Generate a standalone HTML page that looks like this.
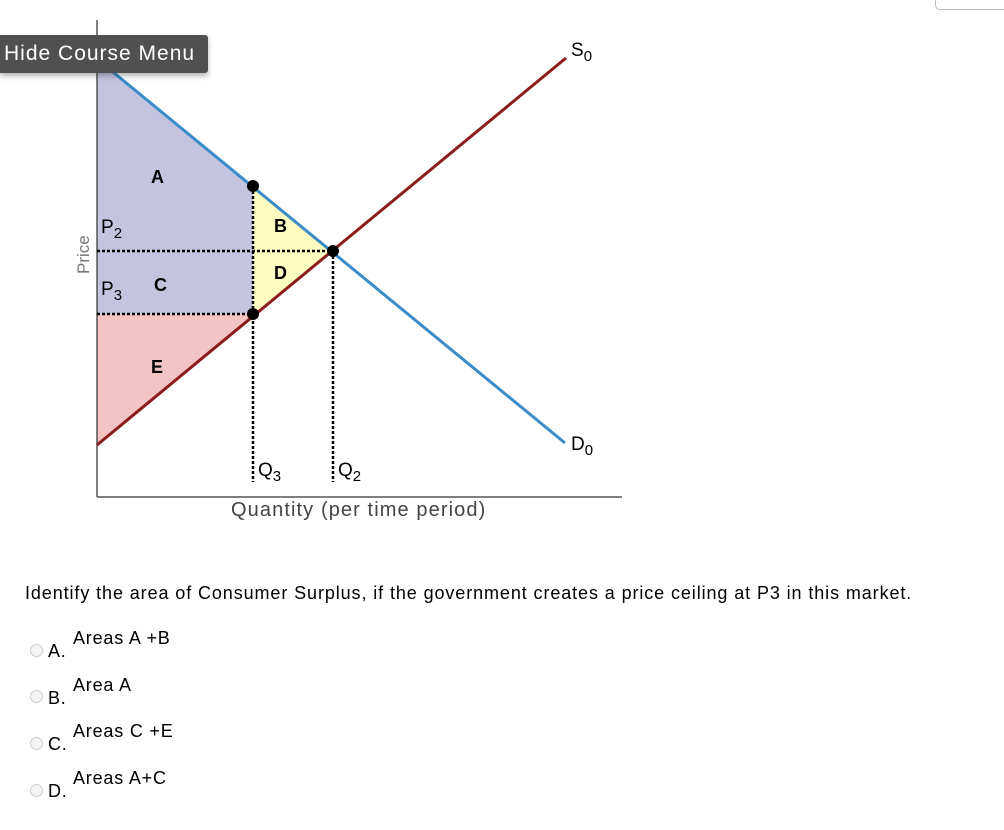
<!DOCTYPE html>
<html><head><style>
body{margin:0;width:1004px;height:830px;background:#fff;font-family:"Liberation Sans",Arial,sans-serif;position:relative;overflow:hidden}
.t{position:absolute;color:#000}
.opt{position:absolute;left:30px;font-size:18px;letter-spacing:0.8px}
.rad{position:absolute;width:11px;height:11px;border:1px solid #ccc;border-radius:50%;background:#f4f4f4}
</style></head><body>
<svg width="1004" height="830" style="position:absolute;left:0;top:0">
<polygon points="97,59 253,186 253,314 97,314" fill="#c4c4e0"/>
<polygon points="253,186 333,251 253,314" fill="#fdfcc0"/>
<polygon points="97,314 253,314 97,445" fill="#f4c4c4"/>
<line x1="97" y1="20" x2="97" y2="497" stroke="#555" stroke-width="1.5"/>
<line x1="97" y1="497" x2="622" y2="497" stroke="#555" stroke-width="1.5"/>
<g stroke="#000" stroke-width="2.5" stroke-dasharray="3,2">
<line x1="97" y1="251" x2="333" y2="251"/>
<line x1="97" y1="314" x2="253" y2="314"/>
<line x1="253" y1="186" x2="253" y2="482"/>
<line x1="333" y1="251" x2="333" y2="482"/>
</g>
<line x1="97" y1="59" x2="565" y2="443" stroke="#3a8cc8" stroke-width="3"/>
<line x1="97" y1="445" x2="566" y2="58" stroke="#8b1c1c" stroke-width="3"/>
<circle cx="253" cy="186" r="6"/><circle cx="333" cy="251" r="6"/><circle cx="253" cy="314" r="6"/>
<text x="89" y="274" transform="rotate(-90 89 274)" font-size="17" fill="#777" font-family="Liberation Sans">Price</text>
</svg>
<div style="position:absolute;left:0;top:35px;width:208px;height:38px;background:#505050;color:#fff;font-size:21px;letter-spacing:1px;line-height:38px;padding-left:4px;box-sizing:border-box;box-shadow:0 3px 6px rgba(0,0,0,.3);border-radius:0 3px 3px 0;white-space:nowrap">Hide Course Menu</div>
<div style="position:absolute;left:935px;top:-4px;width:80px;height:12px;border:1px solid #bbb;border-radius:5px"></div>
<div class="t" style="left:151px;top:167px;font-weight:bold;font-size:18px">A</div>
<div class="t" style="left:274px;top:216px;font-weight:bold;font-size:18px">B</div>
<div class="t" style="left:154px;top:275px;font-weight:bold;font-size:18px">C</div>
<div class="t" style="left:274px;top:263px;font-weight:bold;font-size:18px">D</div>
<div class="t" style="left:151px;top:357px;font-weight:bold;font-size:18px">E</div>
<div class="t" style="left:101px;top:217px;font-size:19px">P<sub style="font-size:15px">2</sub></div>
<div class="t" style="left:101px;top:279px;font-size:19px">P<sub style="font-size:15px">3</sub></div>
<div class="t" style="left:258px;top:460px;font-size:19px">Q<sub style="font-size:15px">3</sub></div>
<div class="t" style="left:338px;top:460px;font-size:19px">Q<sub style="font-size:15px">2</sub></div>
<div class="t" style="left:571px;top:40px;font-size:19px">S<sub style="font-size:15px">0</sub></div>
<div class="t" style="left:571px;top:434px;font-size:19px">D<sub style="font-size:15px">0</sub></div>
<div class="t" style="left:231px;top:499px;font-size:20px;letter-spacing:1.1px;color:#444">Quantity (per time period)</div>
<div class="t" style="left:25px;top:583px;font-size:18px;letter-spacing:0.9px;white-space:nowrap">Identify the area of Consumer Surplus, if the government creates a price ceiling at P3 in this market.</div>
<div class="rad" style="left:30px;top:644px"></div><div class="opt" style="left:48px;top:641px">A.</div><div class="opt" style="left:73px;top:628px">Areas A +B</div>
<div class="rad" style="left:30px;top:690px"></div><div class="opt" style="left:48px;top:688px">B.</div><div class="opt" style="left:73px;top:675px">Area A</div>
<div class="rad" style="left:30px;top:737px"></div><div class="opt" style="left:48px;top:734px">C.</div><div class="opt" style="left:73px;top:721px">Areas C +E</div>
<div class="rad" style="left:30px;top:784px"></div><div class="opt" style="left:48px;top:781px">D.</div><div class="opt" style="left:73px;top:768px">Areas A+C</div>
</body></html>
